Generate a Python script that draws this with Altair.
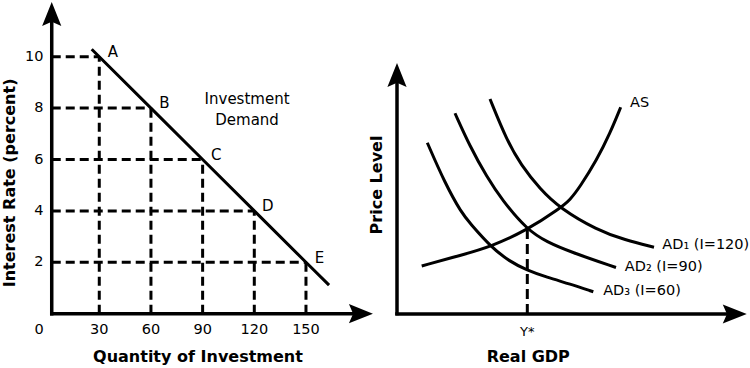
import altair as alt
import pandas as pd

FONT = "DejaVu Sans"

# ---------------- Left panel: investment demand ----------------
inv_qty = [30, 60, 90, 120, 150]
inv_rate = [10, 8, 6, 4, 2]
point_names = ["A", "B", "C", "D", "E"]
demand_qty = [25.6, 30, 60, 90, 120, 150, 163.4]
demand_rate = [10.29, 10, 8, 6, 4, 2, 1.11]
x_tick_vals = [30, 60, 90, 120, 150]
y_tick_vals = [2, 4, 6, 8, 10]
left_origin_label = "0"
left_x_title = "Quantity of Investment"
left_y_title = "Interest Rate (percent)"
demand_label = ["Investment", "Demand"]

# ---------------- Right panel: AD / AS ----------------
as_x = [7.06, 18.49, 26.77, 37.23, 46.57, 49.43, 52.29, 57.06, 60.86, 63.91]
as_y = [19.2, 23.6, 26.9, 33.6, 42.3, 45.6, 50.9, 61.6, 72.3, 82.7]
ad1_x = [26.57, 31.34, 35.43, 40.86, 46.57, 57.14, 65.14, 73.43]
ad1_y = [86.0, 69.6, 59.6, 50.0, 42.3, 33.6, 29.6, 26.7]
ad2_x = [16.57, 20.86, 25.63, 30.0, 37.23, 42.86, 49.43, 62.57]
ad2_y = [80.3, 67.0, 54.9, 45.6, 33.6, 28.8, 24.9, 18.6]
ad3_x = [8.66, 13.71, 18.49, 20.86, 26.77, 32.29, 37.06, 42.77, 49.43, 56.09]
ad3_y = [68.5, 52.3, 40.3, 36.3, 26.9, 20.9, 17.6, 14.7, 12.0, 8.9]
eq_x = 37.23
eq_y = 33.6
curve_names = ["AS", "AD\u2081 (I=120)", "AD\u2082 (I=90)", "AD\u2083 (I=60)"]
curve_label_x = [66.6, 75.8, 65.1, 58.9]
curve_label_y = [84.5, 27.6, 18.9, 9.2]
right_x_title = "Real GDP"
right_y_title = "Price Level"
y_star = "Y*"

# ---------------- scales (each panel spans the full canvas) ----------------
LX = alt.Scale(domain=[-27.634, 407.78], nice=False, zero=False)
LY = alt.Scale(domain=[-2.1128, 12.2062], nice=False, zero=False)
RX = alt.Scale(domain=[-113.4286, 100.857], nice=False, zero=False)
RY = alt.Scale(domain=[-21.6, 125.6], nice=False, zero=False)

UP = "M0,-1L0.8,1L0,0.65L-0.8,1Z"
RIGHT = "M1,0L-1,-0.8L-0.65,0L-1,0.8Z"


def X(f, s):
    return alt.X(f, type="quantitative", scale=s, axis=None)


def Y(f, s):
    return alt.Y(f, type="quantitative", scale=s, axis=None)


# ---- left layers
pts = pd.DataFrame({"q": inv_qty, "r": inv_rate, "n": point_names, "a": [2.4] * 5, "z": [0] * 5})
dash_h = alt.Chart(pts).mark_rule(strokeDash=[9, 5], strokeWidth=3, color="black").encode(
    x=X("a", LX), x2="q", y=Y("r", LY))
dash_v = alt.Chart(pts).mark_rule(strokeDash=[9, 5], strokeWidth=3, color="black").encode(
    x=X("q", LX), y=Y("z", LY), y2="r")
demand = alt.Chart(pd.DataFrame({"q": demand_qty, "r": demand_rate})).mark_line(
    color="black", strokeWidth=3).encode(x=X("q", LX), y=Y("r", LY))
pt_labels = alt.Chart(pts).mark_text(font=FONT, fontSize=15, dx=13.5, dy=-4.7, color="black").encode(
    x=X("q", LX), y=Y("r", LY), text="n")

lax = pd.DataFrame({"x0": [1.4], "x1": [181.9], "y0": [0.0], "y1": [11.66], "xa": [2.4], "ya": [-0.07]})
l_yaxis = alt.Chart(lax).mark_rule(strokeWidth=3.5, color="black").encode(
    x=X("xa", LX), y=Y("ya", LY), y2="y1")
l_xaxis = alt.Chart(lax).mark_rule(strokeWidth=3.5, color="black").encode(
    x=X("x0", LX), x2="x1", y=Y("y0", LY))
l_up = alt.Chart(lax).mark_point(shape=UP, size=576, filled=True, opacity=1, color="black").encode(
    x=X("xa", LX), y=Y("y1", LY))
l_right = alt.Chart(lax).mark_point(shape=RIGHT, size=576, filled=True, opacity=1, color="black").encode(
    x=X("x1", LX), y=Y("y0", LY))

xt = pd.DataFrame({"v": [-5.0] + x_tick_vals, "t": [left_origin_label] + [str(v) for v in x_tick_vals],
                   "yy": [-0.64] * 6})
x_ticks = alt.Chart(xt).mark_text(font=FONT, fontSize=14.5, color="black").encode(
    x=X("v", LX), y=Y("yy", LY), text="t")
yt = pd.DataFrame({"v": y_tick_vals, "t": [str(v) for v in y_tick_vals], "xx": [-2.4] * 5})
y_ticks = alt.Chart(yt).mark_text(font=FONT, fontSize=14.5, align="right", color="black").encode(
    x=X("xx", LX), y=Y("v", LY), text="t")
l_xtitle = alt.Chart(pd.DataFrame({"x": [87.3], "y": [-1.68], "t": [left_x_title]})).mark_text(
    font=FONT, fontSize=16, fontWeight="bold", color="black").encode(
    x=X("x", LX), y=Y("y", LY), text="t")
l_ytitle = alt.Chart(pd.DataFrame({"x": [-21.8], "y": [5.09], "t": [left_y_title]})).mark_text(
    font=FONT, fontSize=16, fontWeight="bold", angle=270, color="black").encode(
    x=X("x", LX), y=Y("y", LY), text="t")
dl = alt.Chart(pd.DataFrame({"x": [115.8, 115.8], "y": [8.35, 7.53], "t": demand_label})).mark_text(
    font=FONT, fontSize=15, color="black").encode(x=X("x", LX), y=Y("y", LY), text="t")

left = alt.layer(dash_h, dash_v, demand, pt_labels, l_yaxis, l_xaxis, l_up, l_right,
                 x_ticks, y_ticks, l_xtitle, l_ytitle, dl)


# ---- right layers
def curve(xs, ys):
    return alt.Chart(pd.DataFrame({"x": xs, "y": ys})).mark_line(
        color="black", strokeWidth=3, interpolate="basis").encode(x=X("x", RX), y=Y("y", RY))


eq = pd.DataFrame({"x": [eq_x], "y0": [0.0], "y1": [eq_y]})
ystar_line = alt.Chart(eq).mark_rule(strokeDash=[10, 5], strokeWidth=3, color="black").encode(
    x=X("x", RX), y=Y("y0", RY), y2="y1")

rax = pd.DataFrame({"zero": [0.0], "xt": [96.5], "yt": [95.6], "neg": [-0.5]})
r_yaxis = alt.Chart(rax).mark_rule(strokeWidth=3.5, color="black").encode(
    x=X("zero", RX), y=Y("neg", RY), y2="yt")
r_xaxis = alt.Chart(rax).mark_rule(strokeWidth=3.5, color="black").encode(
    x=X("neg", RX), x2="xt", y=Y("zero", RY))
r_up = alt.Chart(rax).mark_point(shape=UP, size=576, filled=True, opacity=1, color="black").encode(
    x=X("zero", RX), y=Y("yt", RY))
r_right = alt.Chart(rax).mark_point(shape=RIGHT, size=576, filled=True, opacity=1, color="black").encode(
    x=X("xt", RX), y=Y("zero", RY))

cl = pd.DataFrame({"x": curve_label_x, "y": curve_label_y, "t": curve_names})
curve_labels = alt.Chart(cl).mark_text(font=FONT, fontSize=14.5, align="left", color="black").encode(
    x=X("x", RX), y=Y("y", RY), text="t")
ys_label = alt.Chart(pd.DataFrame({"x": [eq_x], "y": [-7.1], "t": [y_star]})).mark_text(
    font=FONT, fontSize=13, color="black").encode(x=X("x", RX), y=Y("y", RY), text="t")
r_xtitle = alt.Chart(pd.DataFrame({"x": [37.5], "y": [-17.1], "t": [right_x_title]})).mark_text(
    font=FONT, fontSize=16, fontWeight="bold", color="black").encode(x=X("x", RX), y=Y("y", RY), text="t")
r_ytitle = alt.Chart(pd.DataFrame({"x": [-5.6], "y": [51.6], "t": [right_y_title]})).mark_text(
    font=FONT, fontSize=16, fontWeight="bold", angle=270, color="black").encode(
    x=X("x", RX), y=Y("y", RY), text="t")

right = alt.layer(ystar_line, curve(ad1_x, ad1_y), curve(ad2_x, ad2_y), curve(ad3_x, ad3_y),
                  curve(as_x, as_y), r_yaxis, r_xaxis, r_up, r_right, curve_labels, ys_label,
                  r_xtitle, r_ytitle)

chart = alt.layer(left, right).resolve_scale(x="independent", y="independent").properties(
    width=750, height=368, autosize=alt.AutoSizeParams(type="none"), padding=0, background="white"
).configure_view(stroke=None).configure_text(baseline="middle")

chart.save("out.html", embed_options={"renderer": "svg", "actions": False})
